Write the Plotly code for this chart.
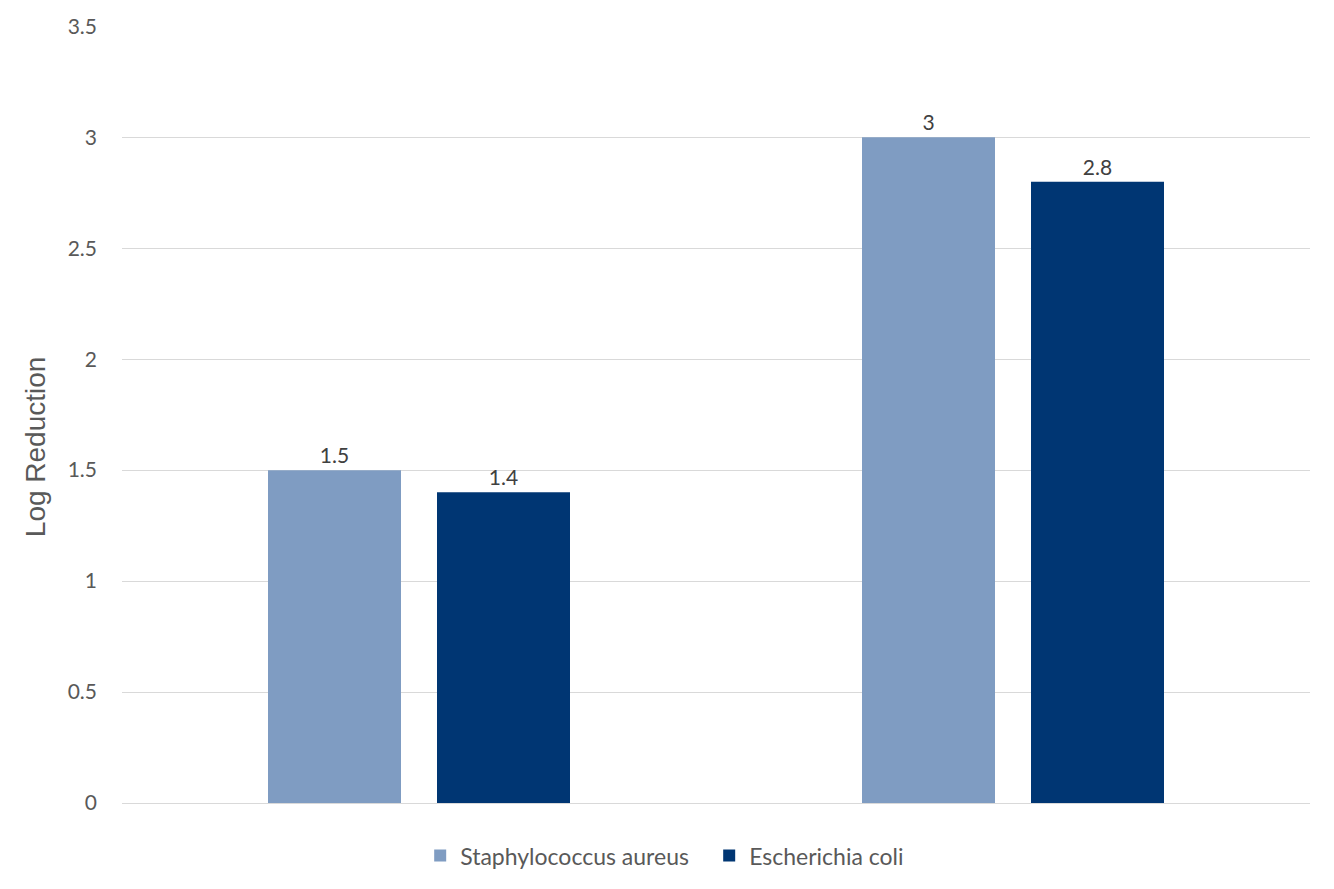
import plotly.graph_objects as go

categories = ["Group 1", "Group 2"]
staph = [1.5, 3.0]
ecoli = [1.4, 2.8]
staph_labels = ["1.5", "3"]
ecoli_labels = ["1.4", "2.8"]
y_ticks = [0, 0.5, 1, 1.5, 2, 2.5, 3, 3.5]
y_ticktext = ["0", "0.5", "1", "1.5", "2", "2.5", "3", "3.5"]

font_main = "Lato, Open Sans, sans-serif"

fig = go.Figure()
fig.add_trace(go.Bar(
    x=categories, y=staph, name="Staphylococcus aureus",
    marker=dict(color="#7F9CC2", line=dict(width=0)),
    text=staph_labels, textposition="outside", cliponaxis=False,
    textfont=dict(size=21, color="#404040", family=font_main),
))
fig.add_trace(go.Bar(
    x=categories, y=ecoli, name="Escherichia coli",
    marker=dict(color="#003673", line=dict(width=0)),
    text=ecoli_labels, textposition="outside", cliponaxis=False,
    textfont=dict(size=21, color="#404040", family=font_main),
))

fig.update_layout(
    width=1334, height=889,
    margin=dict(l=122, r=24, t=26, b=86, autoexpand=False),
    paper_bgcolor="white", plot_bgcolor="white",
    barmode="group", bargap=0.431, bargroupgap=0.213,
    font=dict(family=font_main, color="#595959"),
    showlegend=True,
    legend=dict(orientation="h", x=0.251, xanchor="left", y=-0.04, yanchor="top",
                font=dict(size=23, color="#595959", family=font_main),
                entrywidth=244, entrywidthmode="pixels",
                itemsizing="constant", traceorder="normal"),
    xaxis=dict(showticklabels=False, showgrid=False, zeroline=False, showline=False,
               ticks=""),
    yaxis=dict(range=[0, 3.5015], tickvals=y_ticks, ticktext=y_ticktext,
               showgrid=True, gridcolor="#D9D9D9", gridwidth=1,
               zeroline=True, zerolinecolor="#D9D9D9", zerolinewidth=1,
               showline=False, ticks="", ticklen=0, ticklabelstandoff=24,
               tickfont=dict(size=21, color="#595959", family=font_main)),
    annotations=[dict(text="Log Reduction", textangle=-90, showarrow=False,
                      xref="paper", yref="paper", x=-0.0732, y=0.458,
                      xanchor="center", yanchor="middle",
                      font=dict(size=28, color="#595959",
                                family="Liberation Sans, Arial, sans-serif"))],
)

fig.write_html("out.html")
